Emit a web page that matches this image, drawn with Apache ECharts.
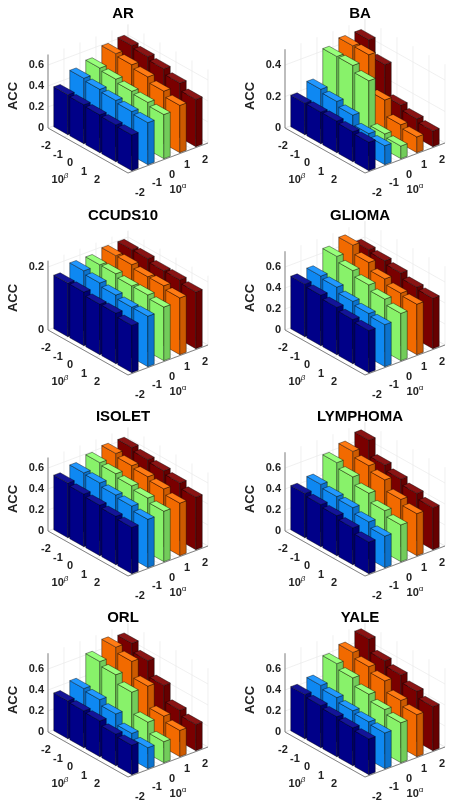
<!DOCTYPE html>
<html><head><meta charset="utf-8">
<script src="https://cdn.jsdelivr.net/npm/echarts@6/dist/echarts.min.js"></script>
<style>html,body{margin:0;padding:0;background:#fff}#c{width:474px;height:806px}</style>
</head><body><div id="c"></div>
<script>
const titles = ['AR','BA','CCUDS10','GLIOMA','ISOLET','LYMPHOMA','ORL','YALE'];
const alphaTicks = ['-2','-1','0','1','2'];
const betaTicks = ['-2','-1','0','1','2'];
// rows: alpha -2..2 ; columns: beta -2..2
const AR = [[0.38,0.37,0.36,0.35,0.34],[0.48,0.46,0.44,0.42,0.40],[0.52,0.50,0.47,0.45,0.42],[0.60,0.58,0.55,0.50,0.45],[0.62,0.60,0.57,0.52,0.45]];
const BA = [[0.20,0.20,0.20,0.19,0.18],[0.25,0.23,0.20,0.14,0.12],[0.42,0.42,0.38,0.10,0.08],[0.45,0.45,0.22,0.12,0.10],[0.45,0.35,0.15,0.12,0.10]];
const CCUDS10 = [[0.17,0.17,0.16,0.16,0.15],[0.19,0.18,0.17,0.16,0.16],[0.19,0.19,0.18,0.18,0.17],[0.20,0.20,0.19,0.19,0.18],[0.20,0.20,0.19,0.19,0.18]];
const GLIOMA = [[0.50,0.48,0.45,0.42,0.40],[0.52,0.50,0.45,0.42,0.40],[0.65,0.60,0.55,0.50,0.45],[0.70,0.62,0.55,0.50,0.48],[0.60,0.58,0.55,0.50,0.48]];
const ISOLET = [[0.52,0.50,0.48,0.46,0.44],[0.56,0.55,0.52,0.50,0.46],[0.60,0.58,0.55,0.52,0.48],[0.63,0.60,0.58,0.55,0.50],[0.63,0.60,0.58,0.55,0.50]];
const LYMPHOMA = [[0.42,0.40,0.38,0.35,0.30],[0.45,0.42,0.40,0.35,0.30],[0.60,0.55,0.48,0.40,0.35],[0.65,0.60,0.55,0.45,0.40],[0.70,0.55,0.50,0.45,0.40]];
const ORL = [[0.36,0.35,0.34,0.30,0.28],[0.42,0.40,0.35,0.25,0.20],[0.62,0.58,0.50,0.30,0.20],[0.70,0.65,0.50,0.30,0.25],[0.68,0.60,0.45,0.30,0.25]];
const YALE = [[0.42,0.40,0.38,0.36,0.34],[0.45,0.42,0.38,0.36,0.34],[0.60,0.55,0.48,0.42,0.38],[0.65,0.60,0.55,0.45,0.40],[0.72,0.60,0.55,0.48,0.42]];
const panelData = [AR,BA,CCUDS10,GLIOMA,ISOLET,LYMPHOMA,ORL,YALE];
const zTicks = [[0,0.2,0.4,0.6],[0,0.2,0.4],[0,0.2],[0,0.2,0.4,0.6],[0,0.2,0.4,0.6],[0,0.2,0.4,0.6],[0,0.2,0.4,0.6],[0,0.2,0.4,0.6]];
const zMax = [0.7,0.5,0.22,0.75,0.7,0.75,0.75,0.75];
const colors = [[0,0,143],[15,143,255],[143,255,112],[255,112,0],[128,0,0]];

function rgb(c,f){return 'rgb('+c.map(v=>Math.max(0,Math.min(255,Math.round(f>1? v+(255-v)*(f-1) : v*f)))).join(',')+')';}

const chart = echarts.init(document.getElementById('c'));
const offsets = [[0,0],[237,0],[0,202],[237,202],[0,403],[237,403],[0,604],[237,604]];

function renderItem(params, api){
  const k = api.value(0);
  const [ox,oy] = offsets[k];
  const ticks = zTicks[k];
  const s = 63/ticks[ticks.length-1];
  const P = (a,b,z)=>api.coord([ox+48+b*16+a*16, oy+128+b*9-a*6-z*s]);
  const ch=[];
  const poly=(pts,fill)=>ch.push({type:'polygon',shape:{points:pts},style:{fill:fill,stroke:'#000',lineWidth:0.4}});
  const line=(p1,p2,c,w)=>ch.push({type:'line',shape:{x1:p1[0],y1:p1[1],x2:p2[0],y2:p2[1]},style:{stroke:c,lineWidth:w||0.6}});
  const zm = zMax[k];
  const grid='#e6e6e6';
  for(const t of ticks){ line(P(0,0,t),P(5,0,t),grid); line(P(5,0,t),P(5,5,t),grid); }
  for(let i=0;i<=5;i++){ line(P(i,0,0),P(i,0,zm),grid); line(P(5,i,0),P(5,i,zm),grid); line(P(i,0,0),P(i,5,0),grid); line(P(0,i,0),P(5,i,0),grid);}
  line(P(0,0,0),P(0,0,zm),'#666',0.8);
  line(P(0,0,0),P(0,5,0),'#666',0.8);
  line(P(0,5,0),P(5,5,0),'#666',0.8);
  const d = panelData[k];
  const ma=0.3, mb=0.06;
  for(let a=4;a>=0;a--){
    for(let b=0;b<5;b++){
      const h=d[a][b], c=colors[a];
      const a0=a+ma,a1=a+1-ma,b0=b+mb,b1=b+1-mb;
      poly([P(a0,b0,0),P(a0,b1,0),P(a0,b1,h),P(a0,b0,h)], rgb(c,0.95));
      poly([P(a0,b1,0),P(a1,b1,0),P(a1,b1,h),P(a0,b1,h)], rgb(c,0.8));
      poly([P(a0,b0,h),P(a0,b1,h),P(a1,b1,h),P(a1,b0,h)], rgb(c,1.08));
    }
  }
  const txt=(x,y,str,opt)=>{const p=api.coord([ox+x,oy+y]);ch.push({type:'text',x:p[0],y:p[1],rotation:opt&&opt.rot||0,style:Object.assign({text:str,fill:'#222',font:'bold 11px "Liberation Sans", Arial, sans-serif',align:'center',verticalAlign:'middle'},opt&&opt.style||{})});};
  for(const t of ticks){ const p=P(0,0,t); ch.push({type:'text',x:p[0]-4,y:p[1],style:{text:String(t),fill:'#222',font:'bold 11px "Liberation Sans", Arial, sans-serif',align:'right',verticalAlign:'middle'}}); }
  const bx=[46,58,70,84,97], by=[146,155,163,172,180];
  betaTicks.forEach((t,i)=>txt(bx[i],by[i],t));
  const ax=[140,157,172,187,205], ay=[193,183,175,165,160];
  alphaTicks.forEach((t,i)=>txt(ax[i],ay[i],t));
  txt(60,180,'{b|10}{s|β}',{style:{rich:{b:{font:'bold 11px "Liberation Sans", Arial',fill:'#222'},s:{font:'italic 8px "Liberation Sans", Arial',fill:'#222',padding:[0,0,8,0]}}}});
  txt(178,190,'{b|10}{s|α}',{style:{rich:{b:{font:'bold 11px "Liberation Sans", Arial',fill:'#222'},s:{font:'8px "Liberation Sans", Arial',fill:'#222',padding:[0,0,8,0]}}}});
  txt(13,96,'ACC',{rot:Math.PI/2,style:{font:'bold 13px "Liberation Sans", Arial, sans-serif'}});
  txt(123,14,titles[k],{style:{font:'bold 15px "Liberation Sans", Arial, sans-serif',fill:'#000'}});
  return {type:'group',children:ch};
}

chart.setOption({
  animation:false,
  grid:{left:0,top:0,width:474,height:806},
  xAxis:{type:'value',min:0,max:474,show:false},
  yAxis:{type:'value',min:0,max:806,inverse:true,show:false},
  series:[{type:'custom',renderItem:renderItem,data:titles.map((t,i)=>[i]),clip:false}]
});
</script></body></html>
